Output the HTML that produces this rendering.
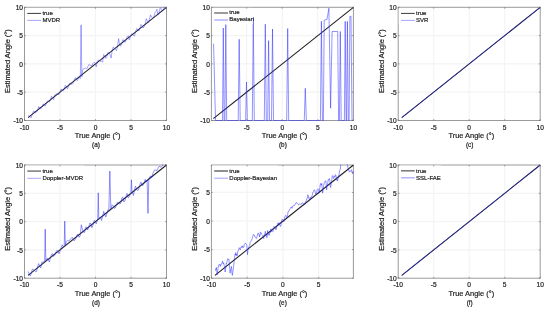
<!DOCTYPE html>
<html><head><meta charset="utf-8"><style>
html,body{margin:0;padding:0;background:#fff;width:550px;height:311px;overflow:hidden}
svg{display:block}
text{font-family:'Liberation Sans', Arial, sans-serif;fill:#222222;stroke:#222222;stroke-width:0.2px}
.tk{font-size:6.6px}
.lb{font-size:7.45px}
.cp{font-size:6.4px}
.lg{font-size:6.0px}
</style></head><body>
<svg width="550" height="311" viewBox="0 0 550 311">
<clipPath id="c00"><rect x="24" y="6.8" width="143" height="114.2"/></clipPath>
<path d="M60 7.3V120.5M95.5 7.3V120.5M131 7.3V120.5M24.5 92.2H166.5M24.5 63.9H166.5M24.5 35.6H166.5" stroke="#f4f4f4" stroke-width="1.2" fill="none"/>
<rect x="24.5" y="7.3" width="142" height="113.2" stroke="#9a9a9a" stroke-width="1" fill="none"/>
<g clip-path="url(#c00)">
<polyline points="28.05,117.67 166.5,7.3" stroke="#1e1e1e" stroke-width="1.05" fill="none"/>
<polyline points="28.05,115.87 29.12,115.8 30.18,116.97 31.24,117.87 32.31,114.01 33.38,111.44 34.44,111.41 35.51,112.73 36.57,111.99 37.63,110.32 38.7,106.56 39.77,108.41 40.83,108.67 41.9,107.17 42.96,104.26 44.03,104.1 45.09,106.2 46.16,104.12 47.22,101.13 48.28,101.37 49.35,102.11 50.42,100.02 51.48,96.26 52.54,98.48 53.61,99.62 54.67,94.91 55.74,94.29 56.8,93.75 57.87,94.54 58.94,94.54 60,91.92 61.06,88.99 62.13,90.23 63.2,90.87 64.26,88.82 65.32,85.31 66.39,86.53 67.45,88.9 68.52,86.49 69.59,83.21 70.65,83 71.72,84.64 72.78,83.57 73.84,81.12 74.91,78.21 75.97,77.63 77.04,80.64 78.1,79.59 79.17,77.07 80.31,78.62 81.09,24.85 81.8,76.92 82.37,70.69 83.43,68.71 84.5,68.63 85.56,68.05 86.62,68.88 87.69,67.01 88.75,64.54 89.82,65.05 90.88,65.45 91.95,65.87 93.02,63.51 94.08,62.38 95.14,62.94 96.21,66.73 97.27,61.3 98.34,60.15 99.41,60.33 100.47,61.28 101.53,61.29 102.6,62.16 103.67,54.5 104.73,55.63 105.8,58.45 106.86,56.34 107.92,52.62 108.99,53 110.05,54.59 111.12,58.07 112.18,50.22 113.25,46.95 114.32,47.94 115.38,49.56 116.44,50.68 117.51,46.68 118.58,38.62 119.64,44.66 120.7,46.2 121.77,43.61 122.83,39.7 123.9,40.29 124.97,42.4 126.03,40.26 127.09,36.74 128.16,35.67 129.23,39.8 130.29,37.36 131.35,34.1 132.42,33.82 133.49,35.43 134.55,36.08 135.62,31.67 136.68,28.53 137.75,29.39 138.81,30.99 139.88,28.46 140.94,24.39 142,25.78 143.07,28.03 144.13,26.63 145.2,23.69 146.26,18.63 147.33,20.87 148.39,22.51 149.46,19.06 150.52,14.88 151.59,17.24 152.66,18.29 153.72,17.24 154.78,13.17 155.85,11.66 156.91,9.25 157.98,15.08 159.04,12.56 160.11,7.81 161.18,8.6 162.24,10.94 163.31,10.29 164.37,6.58 165.44,3.33 166.5,5.08" stroke="#2828ff" stroke-width="0.42" fill="none" stroke-linejoin="round"/>
</g>
<rect x="25.1" y="7.9" width="35.9" height="16.3" fill="#fff"/>
<path d="M24.5 120.5v-1.4M24.5 7.3v1.4M60 120.5v-1.4M60 7.3v1.4M95.5 120.5v-1.4M95.5 7.3v1.4M131 120.5v-1.4M131 7.3v1.4M166.5 120.5v-1.4M166.5 7.3v1.4M24.5 120.5h1.4M166.5 120.5h-1.4M24.5 92.2h1.4M166.5 92.2h-1.4M24.5 63.9h1.4M166.5 63.9h-1.4M24.5 35.6h1.4M166.5 35.6h-1.4M24.5 7.3h1.4M166.5 7.3h-1.4" stroke="#666" stroke-width="0.6" fill="none"/>
<text x="24.5" y="129.7" text-anchor="middle" class="tk">-10</text>
<text x="60" y="129.7" text-anchor="middle" class="tk">-5</text>
<text x="95.5" y="129.7" text-anchor="middle" class="tk">0</text>
<text x="131" y="129.7" text-anchor="middle" class="tk">5</text>
<text x="166.5" y="129.7" text-anchor="middle" class="tk">10</text>
<text x="23" y="123.3" text-anchor="end" class="tk">-10</text>
<text x="23" y="95" text-anchor="end" class="tk">-5</text>
<text x="23" y="66.7" text-anchor="end" class="tk">0</text>
<text x="23" y="38.4" text-anchor="end" class="tk">5</text>
<text x="23" y="10.1" text-anchor="end" class="tk">10</text>
<text x="98.2" y="138.1" text-anchor="middle" class="lb" dx="-0.6">True Angle (°)</text>
<text transform="translate(10.4 61.1) rotate(-90)" text-anchor="middle" class="lb">Estimated Angle (°)</text>
<text x="96" y="147.4" text-anchor="middle" class="cp">(a)</text>
<path d="M27.3 13.4H41.1" stroke="#3a3a3a" stroke-width="1.0"/>
<path d="M27.3 20.4H41.1" stroke="#9a9aff" stroke-width="0.9"/>
<text x="42.4" y="15.2" class="lg">true</text>
<text x="42.4" y="22.3" class="lg">MVDR</text>
<clipPath id="c10"><rect x="210.9" y="6.8" width="143" height="114.2"/></clipPath>
<path d="M246.63 7.3V120.5M282.22 7.3V120.5M317.81 7.3V120.5M211.4 92.2H353.4M211.4 63.9H353.4M211.4 35.6H353.4" stroke="#f4f4f4" stroke-width="1.2" fill="none"/>
<rect x="211.4" y="7.3" width="142" height="113.2" stroke="#9a9a9a" stroke-width="1" fill="none"/>
<g clip-path="url(#c10)">
<polyline points="213.32,118.69 353.4,7.3" stroke="#1e1e1e" stroke-width="1.05" fill="none"/>
<polyline points="213.6,43.7 215.5,120.5 222.5,120.5 223.3,28 224.1,120.5 224.9,120.5 225.8,24.5 226.7,120.5 238.2,120.5 239.2,39.3 240.2,120.5 245.6,120.5 246.5,82 247.4,120.5 252.3,120.5 253.3,17.2 254.3,120.5 264.3,120.5 265.3,24.2 266.3,120.5 267.7,120.5 268.6,40.6 269.5,120.5 271.5,120.5 272.5,29 273.5,120.5 286.7,120.5 287.7,28.5 288.7,120.5 304.25,120.5 305.3,88.3 306.35,120.5 320.4,120.5 321.4,21.3 322.4,120.5 323.4,120.5 324.2,20.2 327,19.4 328.9,8.2 330.6,108.2 332.1,31.5 337.7,31.5 338.6,120.5 339.4,120.5 340.3,31.5 341.2,120.5 344.4,120.5 345.2,21.3 346.1,120.5 346.6,120.5 347.4,21.3 348.3,120.5 349.1,120.5 349.9,16.3 351,16.3 352,120.5 353.4,120.5" stroke="#2828ff" stroke-width="0.5" fill="none" stroke-linejoin="round"/>
</g>
<rect x="212" y="7.9" width="40.7" height="16.3" fill="#fff"/>
<path d="M246.63 120.5v-1.4M246.63 7.3v1.4M282.22 120.5v-1.4M282.22 7.3v1.4M317.81 120.5v-1.4M317.81 7.3v1.4M353.4 120.5v-1.4M353.4 7.3v1.4M211.4 120.5h1.4M353.4 120.5h-1.4M211.4 92.2h1.4M353.4 92.2h-1.4M211.4 63.9h1.4M353.4 63.9h-1.4M211.4 35.6h1.4M353.4 35.6h-1.4M211.4 7.3h1.4M353.4 7.3h-1.4" stroke="#666" stroke-width="0.6" fill="none"/>
<text x="246.63" y="129.7" text-anchor="middle" class="tk">-5</text>
<text x="282.22" y="129.7" text-anchor="middle" class="tk">0</text>
<text x="317.81" y="129.7" text-anchor="middle" class="tk">5</text>
<text x="353.4" y="129.7" text-anchor="middle" class="tk">10</text>
<text x="209.9" y="123.3" text-anchor="end" class="tk">-10</text>
<text x="209.9" y="95" text-anchor="end" class="tk">-5</text>
<text x="209.9" y="66.7" text-anchor="end" class="tk">0</text>
<text x="209.9" y="38.4" text-anchor="end" class="tk">5</text>
<text x="209.9" y="10.1" text-anchor="end" class="tk">10</text>
<text x="285.1" y="138.1" text-anchor="middle" class="lb" dx="-0.6">True Angle (°)</text>
<text transform="translate(197.3 61.1) rotate(-90)" text-anchor="middle" class="lb">Estimated Angle (°)</text>
<text x="282.9" y="147.4" text-anchor="middle" class="cp">(b)</text>
<path d="M214.2 13H228" stroke="#8a8a8a" stroke-width="1.7"/>
<path d="M214.2 20H228" stroke="#bcbcff" stroke-width="1.7"/>
<text x="229.3" y="14.1" class="lg">true</text>
<text x="229.3" y="21.1" class="lg">Bayesian</text>
<clipPath id="c20"><rect x="397.7" y="6.8" width="143" height="114.2"/></clipPath>
<path d="M433.7 7.3V120.5M469.2 7.3V120.5M504.7 7.3V120.5M398.2 92.2H540.2M398.2 63.9H540.2M398.2 35.6H540.2" stroke="#f4f4f4" stroke-width="1.2" fill="none"/>
<rect x="398.2" y="7.3" width="142" height="113.2" stroke="#9a9a9a" stroke-width="1" fill="none"/>
<g clip-path="url(#c20)">
<polyline points="401.75,117.67 540.2,7.3" stroke="#1e1e1e" stroke-width="1.05" fill="none"/>
<polyline points="401.75,117.67 540.2,7.3" stroke="#2a2ad8" stroke-width="0.7" fill="none" stroke-linejoin="round"/>
</g>
<rect x="398.8" y="7.9" width="30.5" height="16.3" fill="#fff"/>
<path d="M398.2 120.5v-1.4M398.2 7.3v1.4M433.7 120.5v-1.4M433.7 7.3v1.4M469.2 120.5v-1.4M469.2 7.3v1.4M504.7 120.5v-1.4M504.7 7.3v1.4M540.2 120.5v-1.4M540.2 7.3v1.4M398.2 120.5h1.4M540.2 120.5h-1.4M398.2 92.2h1.4M540.2 92.2h-1.4M398.2 63.9h1.4M540.2 63.9h-1.4M398.2 35.6h1.4M540.2 35.6h-1.4M398.2 7.3h1.4M540.2 7.3h-1.4" stroke="#666" stroke-width="0.6" fill="none"/>
<text x="398.2" y="129.7" text-anchor="middle" class="tk">-10</text>
<text x="433.7" y="129.7" text-anchor="middle" class="tk">-5</text>
<text x="469.2" y="129.7" text-anchor="middle" class="tk">0</text>
<text x="504.7" y="129.7" text-anchor="middle" class="tk">5</text>
<text x="540.2" y="129.7" text-anchor="middle" class="tk">10</text>
<text x="396.7" y="123.3" text-anchor="end" class="tk">-10</text>
<text x="396.7" y="95" text-anchor="end" class="tk">-5</text>
<text x="396.7" y="66.7" text-anchor="end" class="tk">0</text>
<text x="396.7" y="38.4" text-anchor="end" class="tk">5</text>
<text x="396.7" y="10.1" text-anchor="end" class="tk">10</text>
<text x="471.9" y="138.1" text-anchor="middle" class="lb" dx="-0.6">True Angle (°)</text>
<text transform="translate(384.1 61.1) rotate(-90)" text-anchor="middle" class="lb">Estimated Angle (°)</text>
<text x="469.7" y="147.4" text-anchor="middle" class="cp">(c)</text>
<path d="M401 13.4H414.8" stroke="#3a3a3a" stroke-width="1.0"/>
<path d="M401 20.4H414.8" stroke="#9a9aff" stroke-width="0.9"/>
<text x="416.1" y="15.2" class="lg">true</text>
<text x="416.1" y="22.3" class="lg">SVR</text>
<clipPath id="c01"><rect x="24" y="164.5" width="143" height="114.2"/></clipPath>
<path d="M60 165V278.2M95.5 165V278.2M131 165V278.2M24.5 249.9H166.5M24.5 221.6H166.5M24.5 193.3H166.5" stroke="#f4f4f4" stroke-width="1.2" fill="none"/>
<rect x="24.5" y="165" width="142" height="113.2" stroke="#9a9a9a" stroke-width="1" fill="none"/>
<g clip-path="url(#c01)">
<polyline points="28.05,275.37 166.5,165" stroke="#1e1e1e" stroke-width="1.05" fill="none"/>
<polyline points="28.05,271.48 29.12,273.75 30.18,275.93 31.24,273.67 32.31,269.14 33.38,269.49 34.44,270.69 35.51,271.58 36.57,271.54 37.63,266.49 38.7,263.59 39.77,266.51 40.83,267.83 41.9,262.03 42.96,262.13 44.66,261.56 45.23,229.13 45.8,260.65 47.22,258.18 48.28,259.75 49.35,261.97 50.42,258.08 51.48,254.55 52.54,253.66 53.61,256.44 54.67,255.28 55.74,252.22 56.8,250.41 57.87,251.33 58.94,253.85 60,251.44 61.06,247.78 62.13,244.78 63.2,246.87 64.19,245.99 64.76,221.09 65.32,245.09 66.39,241.56 67.45,240.4 68.52,240.89 69.59,240.43 70.65,238.77 71.72,237.85 72.78,237.59 73.84,240.76 74.91,240.14 75.97,238.09 77.04,234.64 78.1,234.44 79.17,237.35 80.23,235.64 81.3,224.81 82.36,229.07 83.43,232.04 84.5,232.54 85.56,227.26 86.62,226.95 87.69,229.96 88.75,226.99 89.82,223.01 90.88,223.74 91.95,227.69 93.02,224.94 94.08,220.41 95.14,221.32 96.21,223.82 97.7,219.28 98.27,192.79 98.84,218.37 100.47,217.11 101.53,220.57 102.6,216.66 103.67,211.35 104.73,214.42 105.8,216.95 106.86,213.44 107.92,209.75 108.85,210.39 109.84,171 110.84,208.81 112.18,204.77 113.25,205.98 114.32,208.35 115.38,207.86 116.44,204.27 117.51,202.2 118.58,203.13 119.64,203.88 120.7,203.5 121.77,198.03 122.83,196.98 123.9,202.08 124.97,200.59 126.03,196.24 127.09,193.45 128.16,197.81 129.23,196.62 130.86,192.85 131.43,179.77 131.99,191.94 133.49,195.44 134.55,189.1 135.62,186.2 136.68,189.6 137.75,190.57 138.81,188.93 139.88,184.51 140.94,182.1 142,185.4 143.07,185.32 144.13,182.92 145.2,179.42 146.26,181.92 147.12,179.89 147.97,213.39 148.82,178.53 150.52,175.87 151.59,177.93 152.66,173.91 153.72,171.59 154.78,169.66 155.85,170.46 156.91,170.59 157.98,168.25 159.04,166.5 160.11,166.68 161.18,167.29 162.24,165.97 163.31,162.86 164.37,162.78 165.44,164.56 166.5,164.27" stroke="#2828ff" stroke-width="0.5" fill="none" stroke-linejoin="round"/>
</g>
<rect x="25.1" y="165.6" width="58.8" height="16.3" fill="#fff"/>
<path d="M24.5 278.2v-1.4M24.5 165v1.4M60 278.2v-1.4M60 165v1.4M95.5 278.2v-1.4M95.5 165v1.4M131 278.2v-1.4M131 165v1.4M166.5 278.2v-1.4M166.5 165v1.4M24.5 278.2h1.4M166.5 278.2h-1.4M24.5 249.9h1.4M166.5 249.9h-1.4M24.5 221.6h1.4M166.5 221.6h-1.4M24.5 193.3h1.4M166.5 193.3h-1.4M24.5 165h1.4M166.5 165h-1.4" stroke="#666" stroke-width="0.6" fill="none"/>
<text x="24.5" y="287.4" text-anchor="middle" class="tk">-10</text>
<text x="60" y="287.4" text-anchor="middle" class="tk">-5</text>
<text x="95.5" y="287.4" text-anchor="middle" class="tk">0</text>
<text x="131" y="287.4" text-anchor="middle" class="tk">5</text>
<text x="166.5" y="287.4" text-anchor="middle" class="tk">10</text>
<text x="23" y="281" text-anchor="end" class="tk">-10</text>
<text x="23" y="252.7" text-anchor="end" class="tk">-5</text>
<text x="23" y="224.4" text-anchor="end" class="tk">0</text>
<text x="23" y="196.1" text-anchor="end" class="tk">5</text>
<text x="23" y="167.8" text-anchor="end" class="tk">10</text>
<text x="98.2" y="295.8" text-anchor="middle" class="lb" dx="-0.6">True Angle (°)</text>
<text transform="translate(10.4 218.8) rotate(-90)" text-anchor="middle" class="lb">Estimated Angle (°)</text>
<text x="96" y="305.1" text-anchor="middle" class="cp">(d)</text>
<path d="M27.3 171.1H41.1" stroke="#707070" stroke-width="1.4"/>
<path d="M27.3 178.3H41.1" stroke="#a8a8ff" stroke-width="1.0"/>
<text x="42.4" y="172.9" class="lg">true</text>
<text x="42.4" y="180.3" class="lg">Doppler-MVDR</text>
<clipPath id="c11"><rect x="210.9" y="164.5" width="143" height="114.2"/></clipPath>
<path d="M247.15 165V278.2M282.9 165V278.2M318.65 165V278.2M211.4 249.61H353.4M211.4 221.03H353.4M211.4 192.44H353.4" stroke="#f4f4f4" stroke-width="1.2" fill="none"/>
<rect x="211.4" y="165" width="142" height="113.2" stroke="#9a9a9a" stroke-width="1" fill="none"/>
<g clip-path="url(#c11)">
<polyline points="214.98,275.34 353.4,165" stroke="#1e1e1e" stroke-width="1.05" fill="none"/>
<polyline points="215.5,270.9 215.8,268.69 216.1,269.24 216.4,267.5 216.67,270.37 216.93,272.3 217.2,274.8 217.57,270.89 217.93,269.74 218.3,265.8 218.67,266.22 219.03,264.71 219.4,264.1 219.8,264.88 220.2,264.79 220.6,266.4 220.97,263.88 221.33,264.12 221.7,263.6 222.07,263.31 222.43,261.09 222.8,261.9 223.2,263.77 223.6,262.91 224,264.7 224.37,266.28 224.73,268.1 225.1,272 225.47,270.59 225.83,266.76 226.2,263 226.57,263.47 226.93,261.9 227.3,260.8 227.7,258.74 228.1,259.12 228.5,259.1 228.73,260.03 228.97,259.74 229.2,261.9 229.5,267.11 229.8,269.01 230.1,273.2 230.5,269.83 230.9,269.68 231.3,266.4 231.67,268.2 232.03,273.77 232.4,275.4 232.77,272.62 233.13,270.3 233.5,267.5 233.87,263.63 234.23,260.72 234.6,257.4 234.83,255.5 235.07,254.12 235.3,254.7 235.5,255.24 235.7,252.58 235.9,252.8 236.2,254.76 236.5,254 236.8,256 237.17,255.8 237.53,253.86 237.9,250.9 238.3,250.65 238.7,249.61 239.1,247.7 239.53,248.59 239.97,249.7 240.4,249.6 240.83,247.33 241.27,247.39 241.7,246.4 242.13,247.65 242.57,245.84 243,247 243.43,247.52 243.87,246.57 244.3,244.5 244.73,243.78 245.17,243.2 245.6,243.2 246.03,243.88 246.47,244.5 246.9,245.7 247.1,250.28 247.3,251.34 247.5,254.7 247.93,250.62 248.37,248.27 248.8,247 249.23,246.2 249.67,245.58 250.1,242.5 250.6,241.72 251.1,240.94 251.6,240.2 252.13,238.46 252.67,237.19 253.2,234.5 254.27,234.98 255.33,237.58 256.4,238.6 256.93,236.88 257.47,235.19 258,232.9 258.53,233.24 259.07,234.58 259.6,237 259.87,234.88 260.13,235.1 260.4,232.1 260.93,232.41 261.47,234.01 262,234.5 262.57,235.25 263.13,235.96 263.7,238.6 264.23,234.78 264.77,234.74 265.3,231.3 265.83,234.35 266.37,235.23 266.9,237.8 267.17,235.95 267.43,233.5 267.7,230.5 268.23,233.38 268.77,235.17 269.3,235.3 269.83,232.87 270.37,232.6 270.9,228.9 271.43,231.44 271.97,231.32 272.5,232.1 273.03,231.46 273.57,228.34 274.1,226.5 274.63,227.17 275.17,227.82 275.7,229.7 276.23,229.57 276.77,225.95 277.3,225.7 277.83,223.26 278.37,224.54 278.9,222.5 279.43,224.71 279.97,225.11 280.5,226.5 281.03,225.18 281.57,220.27 282.1,219.3 282.63,219.33 283.17,220.23 283.7,221.7 284.23,219.58 284.77,216.91 285.3,216.1 285.83,215.26 286.37,216.65 286.9,217.7 287.27,216.94 287.63,215.18 288,211.6 288.8,211.32 289.6,209.4 290.4,208.4 291.2,206.81 292,208.27 292.8,206 293.6,205.55 294.4,205.66 295.2,204.4 296,202.62 296.8,202.95 297.6,203.6 298.4,204.68 299.2,204.54 300,203.6 300.83,204.55 301.67,203.39 302.5,202.8 303.03,203.1 303.57,204.13 304.1,204.4 304.63,204.72 305.17,202.19 305.7,202 306.23,200.78 306.77,198.62 307.3,198 307.57,198.03 307.83,194.77 308.1,195.5 308.63,197.46 309.17,199.69 309.7,199.6 310.23,197.28 310.77,198.3 311.3,197.2 311.83,196.03 312.37,195.06 312.9,192.3 313.43,191.77 313.97,189.92 314.5,189.9 315.03,190.93 315.57,194.03 316.1,193.9 316.63,193.6 317.17,189.53 317.7,189.1 318.23,189.14 318.77,190.47 319.3,193.1 319.6,188.91 319.9,187.6 320.2,185.1 320.73,183.42 321.27,185.21 321.8,183.5 322.07,187.2 322.33,188.7 322.6,193.1 323.13,189.76 323.67,185.6 324.2,182.7 324.73,182.15 325.27,180.74 325.8,181.1 326.07,182.96 326.33,185.96 326.6,189.9 327.13,186.04 327.67,183.64 328.2,179.5 328.73,179.93 329.27,178.58 329.8,180.3 330.07,183.37 330.33,186.3 330.6,187.5 331.13,184.64 331.67,180.96 332.2,176.3 332.73,175.53 333.27,177.78 333.8,178.7 334.33,175.94 334.87,176.81 335.4,174.6 335.93,175.46 336.47,179.08 337,180.3 337.23,179.51 337.47,180.93 337.7,180.3 338.1,178.07 338.5,175.57 338.9,175.4 339.3,173.01 339.7,170.72 340.1,169.3 340.33,169.22 340.57,165.91 340.8,165.2 341.03,163.48 341.27,161.89 341.5,160 343.27,161.43 345.03,158.72 346.8,160 347.03,162.06 347.27,163.49 347.5,165.2 347.9,167.72 348.3,170.23 348.7,170.5 349.1,170.33 349.5,172 349.9,171.8 350.3,171.45 350.7,171.13 351.1,170.5 351.53,169.74 351.97,172.77 352.4,172.4 352.67,173.73 352.93,171.54 353.2,171.8" stroke="#2828ff" stroke-width="0.5" fill="none" stroke-linejoin="round"/>
</g>
<rect x="212" y="165.6" width="65.8" height="16.3" fill="#fff"/>
<path d="M211.4 278.2v-1.4M211.4 165v1.4M247.15 278.2v-1.4M247.15 165v1.4M282.9 278.2v-1.4M282.9 165v1.4M318.65 278.2v-1.4M318.65 165v1.4M211.4 278.2h1.4M353.4 278.2h-1.4M211.4 249.61h1.4M353.4 249.61h-1.4M211.4 221.03h1.4M353.4 221.03h-1.4M211.4 192.44h1.4M353.4 192.44h-1.4" stroke="#666" stroke-width="0.6" fill="none"/>
<text x="211.4" y="287.4" text-anchor="middle" class="tk">-10</text>
<text x="247.15" y="287.4" text-anchor="middle" class="tk">-5</text>
<text x="282.9" y="287.4" text-anchor="middle" class="tk">0</text>
<text x="318.65" y="287.4" text-anchor="middle" class="tk">5</text>
<text x="209.9" y="281" text-anchor="end" class="tk">-10</text>
<text x="209.9" y="252.41" text-anchor="end" class="tk">-5</text>
<text x="209.9" y="223.83" text-anchor="end" class="tk">0</text>
<text x="209.9" y="195.24" text-anchor="end" class="tk">5</text>
<text x="285.1" y="295.8" text-anchor="middle" class="lb" dx="-0.6">True Angle (°)</text>
<text transform="translate(197.3 218.8) rotate(-90)" text-anchor="middle" class="lb">Estimated Angle (°)</text>
<text x="282.9" y="305.1" text-anchor="middle" class="cp">(e)</text>
<path d="M214.2 171H228" stroke="#6a6a6a" stroke-width="1.5"/>
<path d="M214.2 178.2H228" stroke="#a8a8ff" stroke-width="1.1"/>
<text x="229.3" y="172.7" class="lg">true</text>
<text x="229.3" y="180.3" class="lg">Doppler-Bayesian</text>
<clipPath id="c21"><rect x="397.7" y="164.5" width="143" height="114.2"/></clipPath>
<path d="M433.7 165V278.2M469.2 165V278.2M504.7 165V278.2M398.2 249.9H540.2M398.2 221.6H540.2M398.2 193.3H540.2" stroke="#f4f4f4" stroke-width="1.2" fill="none"/>
<rect x="398.2" y="165" width="142" height="113.2" stroke="#9a9a9a" stroke-width="1" fill="none"/>
<g clip-path="url(#c21)">
<polyline points="401.75,275.37 540.2,165" stroke="#1e1e1e" stroke-width="1.05" fill="none"/>
<polyline points="401.75,275.37 540.2,165" stroke="#2a2ad8" stroke-width="0.7" fill="none" stroke-linejoin="round"/>
</g>
<rect x="398.8" y="165.6" width="42.3" height="16.3" fill="#fff"/>
<path d="M398.2 278.2v-1.4M398.2 165v1.4M433.7 278.2v-1.4M433.7 165v1.4M469.2 278.2v-1.4M469.2 165v1.4M504.7 278.2v-1.4M504.7 165v1.4M540.2 278.2v-1.4M540.2 165v1.4M398.2 278.2h1.4M540.2 278.2h-1.4M398.2 249.9h1.4M540.2 249.9h-1.4M398.2 221.6h1.4M540.2 221.6h-1.4M398.2 193.3h1.4M540.2 193.3h-1.4M398.2 165h1.4M540.2 165h-1.4" stroke="#666" stroke-width="0.6" fill="none"/>
<text x="398.2" y="287.4" text-anchor="middle" class="tk">-10</text>
<text x="433.7" y="287.4" text-anchor="middle" class="tk">-5</text>
<text x="469.2" y="287.4" text-anchor="middle" class="tk">0</text>
<text x="504.7" y="287.4" text-anchor="middle" class="tk">5</text>
<text x="540.2" y="287.4" text-anchor="middle" class="tk">10</text>
<text x="396.7" y="281" text-anchor="end" class="tk">-10</text>
<text x="396.7" y="252.7" text-anchor="end" class="tk">-5</text>
<text x="396.7" y="224.4" text-anchor="end" class="tk">0</text>
<text x="396.7" y="196.1" text-anchor="end" class="tk">5</text>
<text x="396.7" y="167.8" text-anchor="end" class="tk">10</text>
<text x="471.9" y="295.8" text-anchor="middle" class="lb" dx="-0.6">True Angle (°)</text>
<text transform="translate(384.1 218.8) rotate(-90)" text-anchor="middle" class="lb">Estimated Angle (°)</text>
<text x="469.7" y="305.1" text-anchor="middle" class="cp">(f)</text>
<path d="M401 170.8H414.8" stroke="#777777" stroke-width="1.5"/>
<path d="M401 177.8H414.8" stroke="#b0b0ff" stroke-width="1.4"/>
<text x="416.1" y="172.6" class="lg">true</text>
<text x="416.1" y="180.2" class="lg">SSL-FAE</text>
</svg>
</body></html>
